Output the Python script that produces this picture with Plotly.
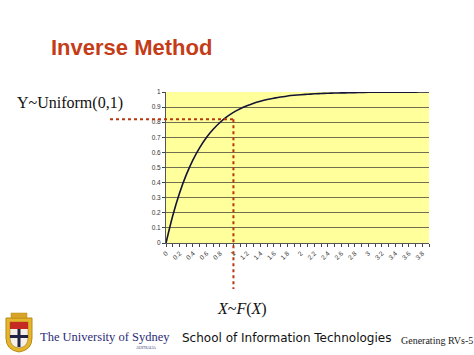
import plotly.graph_objects as go

# ---- data ----
x_vals = [round(0.1 * i, 1) for i in range(40)]
cdf_vals = [0.000, 0.181, 0.330, 0.451, 0.551, 0.632, 0.699, 0.753, 0.798, 0.835,
            0.865, 0.889, 0.909, 0.926, 0.939, 0.950, 0.959, 0.967, 0.973, 0.978,
            0.982, 0.985, 0.988, 0.990, 0.992, 0.993, 0.994, 0.995, 0.996, 0.997,
            0.998, 0.998, 0.998, 0.999, 0.999, 0.999, 0.999, 0.999, 1.000, 1.000]
x_tick_vals = [round(0.2 * i, 1) for i in range(20)]
x_tick_text = ["0", "0.2", "0.4", "0.6", "0.8", "1", "1.2", "1.4", "1.6", "1.8",
               "2", "2.2", "2.4", "2.6", "2.8", "3", "3.2", "3.4", "3.6", "3.8"]
y_tick_vals = [round(0.1 * i, 1) for i in range(11)]
y_tick_text = ["0", "0.1", "0.2", "0.3", "0.4", "0.5", "0.6", "0.7", "0.8", "0.9", "1"]
u_sample = 0.82      # Y value of the dotted guide
x_sample = 1.0       # X value of the dotted guide

X_RANGE = [0, 3.9]
Y_RANGE = [0, 1]

W, H = 474, 355
L, R, T, B = 166, 45, 92, 112
PW, PH = W - L - R, H - T - B


def fx(px):
    return (px - L) / PW


def fy(py):
    return (H - B - py) / PH


def dx(v):
    return (v - X_RANGE[0]) / (X_RANGE[1] - X_RANGE[0])


def dy(v):
    return (v - Y_RANGE[0]) / (Y_RANGE[1] - Y_RANGE[0])


fig = go.Figure()
fig.add_trace(go.Scatter(
    x=x_vals, y=cdf_vals, mode="lines",
    line=dict(color="#141438", width=1.6, shape="spline"),
    hoverinfo="skip", showlegend=False,
))

guide = dict(color="#B8360F", width=2, dash="dot")
shapes = [
    dict(type="line", xref="paper", yref="paper",
         x0=fx(110), x1=dx(x_sample), y0=dy(u_sample), y1=dy(u_sample), line=guide),
    dict(type="line", xref="paper", yref="paper",
         x0=dx(x_sample), x1=dx(x_sample), y0=dy(u_sample), y1=fy(289), line=guide),
]

# simple coat-of-arms style logo (decoration)
def P(px, py):
    return f"{fx(px):.4f},{fy(py):.4f}"

shield = ("M " + P(6, 318) + " L " + P(32, 318) + " L " + P(32, 338) +
          " Q " + P(32, 350) + " " + P(19, 352) + " Q " + P(6, 350) + " " + P(6, 338) + " Z")
shapes.append(dict(type="path", xref="paper", yref="paper", path=shield,
                   fillcolor="#E6B52E", line=dict(color="#B88A10", width=1)))
inner = ("M " + P(10, 322) + " L " + P(28, 322) + " L " + P(28, 338) +
         " Q " + P(28, 347) + " " + P(19, 348) + " Q " + P(10, 347) + " " + P(10, 338) + " Z")
shapes.append(dict(type="path", xref="paper", yref="paper", path=inner,
                   fillcolor="#F4F0E8", line=dict(color="#8A6A10", width=0.5)))
shapes.append(dict(type="rect", xref="paper", yref="paper",
                   x0=fx(10), x1=fx(28), y0=fy(329), y1=fy(322),
                   fillcolor="#C42A22", line=dict(width=0)))
shapes.append(dict(type="rect", xref="paper", yref="paper",
                   x0=fx(10), x1=fx(28), y0=fy(338), y1=fy(335),
                   fillcolor="#222244", line=dict(width=0)))
shapes.append(dict(type="rect", xref="paper", yref="paper",
                   x0=fx(17.5), x1=fx(20.5), y0=fy(347), y1=fy(329),
                   fillcolor="#222244", line=dict(width=0)))
shapes.append(dict(type="rect", xref="paper", yref="paper",
                   x0=fx(11), x1=fx(27), y0=fy(318), y1=fy(313),
                   fillcolor="#D8A428", line=dict(color="#B88A10", width=0.5)))

annotations = [
    dict(text="Y~Uniform(0,1)", x=fx(16), y=fy(103), xanchor="left", yanchor="middle",
         font=dict(family="Liberation Serif, Times New Roman, serif", size=16, color="#111")),
    dict(text="<i>X</i>~<i>F</i>(<i>X</i>)", x=fx(216), y=fy(309), xanchor="left", yanchor="middle",
         font=dict(family="Liberation Serif, Times New Roman, serif", size=16, color="#111")),
    dict(text="The University of Sydney", x=fx(39), y=fy(337), xanchor="left", yanchor="middle",
         font=dict(family="Liberation Serif, Times New Roman, serif", size=12.5, color="#2B2B78")),
    dict(text="AUSTRALIA", x=fx(146), y=fy(347.5), xanchor="center", yanchor="middle",
         font=dict(family="Liberation Serif, serif", size=3.5, color="#2B2B78")),
    dict(text="School of Information Technologies", x=fx(181), y=fy(338), xanchor="left", yanchor="middle",
         font=dict(family="DejaVu Sans, sans-serif", size=12, color="#111")),
    dict(text="Generating RVs-5", x=fx(400), y=fy(340), xanchor="left", yanchor="middle",
         font=dict(family="Liberation Serif, Times New Roman, serif", size=10, color="#222")),
]
for a in annotations:
    a.update(xref="paper", yref="paper", showarrow=False, borderpad=0)

fig.update_layout(
    width=W, height=H,
    margin=dict(l=L, r=R, t=T, b=B, pad=0),
    paper_bgcolor="white", plot_bgcolor="#FFFF9C",
    title=dict(text="<b>Inverse Method</b>", x=51 / W, xanchor="left", xref="container",
               y=1 - 47 / H, yanchor="middle", yref="container",
               font=dict(family="Liberation Sans, Arial, sans-serif",
                         size=22, color="#C43C18")),
    shapes=shapes, annotations=annotations,
    showlegend=False,
)
fig.update_xaxes(
    range=X_RANGE, tickvals=x_tick_vals, ticktext=x_tick_text, tickangle=-45,
    ticks="outside", ticklen=3, tickcolor="#444", tickwidth=1,
    minor=dict(dtick=0.1, tick0=0, ticks="outside", ticklen=3, tickcolor="#444", showgrid=False),
    showgrid=False, zeroline=False, showline=True, linecolor="#555", linewidth=1,
    tickfont=dict(family="Liberation Sans, Arial, sans-serif", size=6.5, color="#333"),
    fixedrange=True,
)
fig.update_yaxes(
    range=Y_RANGE, tickvals=y_tick_vals, ticktext=y_tick_text,
    ticks="outside", ticklen=3, tickcolor="#444", tickwidth=1,
    showgrid=True, gridcolor="#707050", gridwidth=1.4,
    zeroline=False, showline=True, linecolor="#555", linewidth=1,
    tickfont=dict(family="Liberation Sans, Arial, sans-serif", size=6.5, color="#333"),
    fixedrange=True,
)

fig.write_html("out.html", config={"displayModeBar": False})
